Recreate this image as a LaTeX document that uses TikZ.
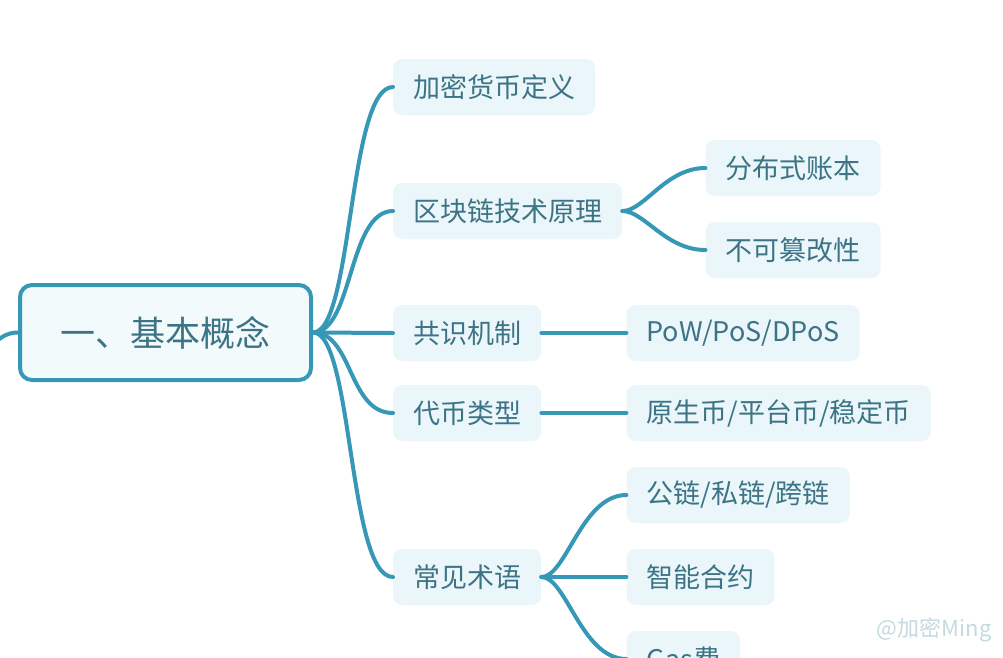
\documentclass[tikz,border=0pt]{standalone}
\usepackage{fontspec}
\setmainfont{Noto Sans CJK SC}
\usetikzlibrary{positioning}
\definecolor{linkblue}{RGB}{54,152,182}
\definecolor{boxfill}{RGB}{234,246,250}
\definecolor{rootfill}{RGB}{242,250,252}
\definecolor{labeltext}{RGB}{60,116,134}
\definecolor{markgray}{RGB}{196,218,224}

\begin{document}
\begin{tikzpicture}[
      x=1pt, y=-1pt,
      root/.style={draw=linkblue, line width=4pt, rounded corners=12pt, fill=rootfill, text=labeltext, minimum width=291pt, minimum height=95pt, font=\fontsize{35}{42}\selectfont},
      topic/.style={fill=boxfill, rounded corners=9pt, text=labeltext, inner xsep=20pt, minimum height=56pt, font=\fontsize{27}{32}\selectfont},
      link/.style={draw=linkblue, line width=4pt, line cap=round}
    ]
    \useasboundingbox (0,0) rectangle (1003,657);
    \clip (0,0) rectangle (1003,657);
    \node[root] (root) at (165.5,332.5) {一、基本概念};
    \node[topic, anchor=west] (def) at (393,87) {加密货币定义};
    \node[topic, anchor=west] (chain) at (393,211) {区块链技术原理};
    \node[topic, anchor=west] (cons) at (393,333) {共识机制};
    \node[topic, anchor=west] (tokens) at (393,413) {代币类型};
    \node[topic, anchor=west] (terms) at (393,577) {常见术语};
    \node[topic, right=83pt of chain, yshift=43pt] (ledger) {分布式账本};
    \node[topic, right=83pt of chain, yshift=-39pt] (immut) {不可篡改性};
    \node[topic, right=85pt of cons] (pow) {PoW/PoS/DPoS};
    \node[topic, right=85pt of tokens] (kinds) {原生币/平台币/稳定币};
    \node[topic, right=85pt of terms, yshift=82pt] (public) {公链/私链/跨链};
    \node[topic, right=85pt of terms] (smart) {智能合约};
    \node[topic, right=85pt of terms, yshift=-82pt] (gas) {Gas费};
    \node[text=markgray, anchor=east, font=\fontsize{22}{26}\selectfont] (mark) at (995,630) {@加密Ming};
    \coordinate (up) at (-40,395);
    \draw[link] (up) .. controls +(25,-45) and +(-20,0) .. (root.west);
    \foreach \t in {def,chain,tokens,terms}
      \draw[link] (root.east) .. controls +(40,0) and +(-45,0) .. (\t.west);
    \draw[link] (root.east) -- (cons.west);
    \foreach \t in {ledger,immut}
      \draw[link] (chain.east) .. controls +(22,0) and +(-40,0) .. (\t.west);
    \draw[link] (cons.east) -- (pow.west);
    \draw[link] (tokens.east) -- (kinds.west);
    \foreach \t in {public,gas}
      \draw[link] (terms.east) .. controls +(25,0) and +(-45,0) .. (\t.west);
    \draw[link] (terms.east) -- (smart.west);
  \end{tikzpicture}
\end{document}
